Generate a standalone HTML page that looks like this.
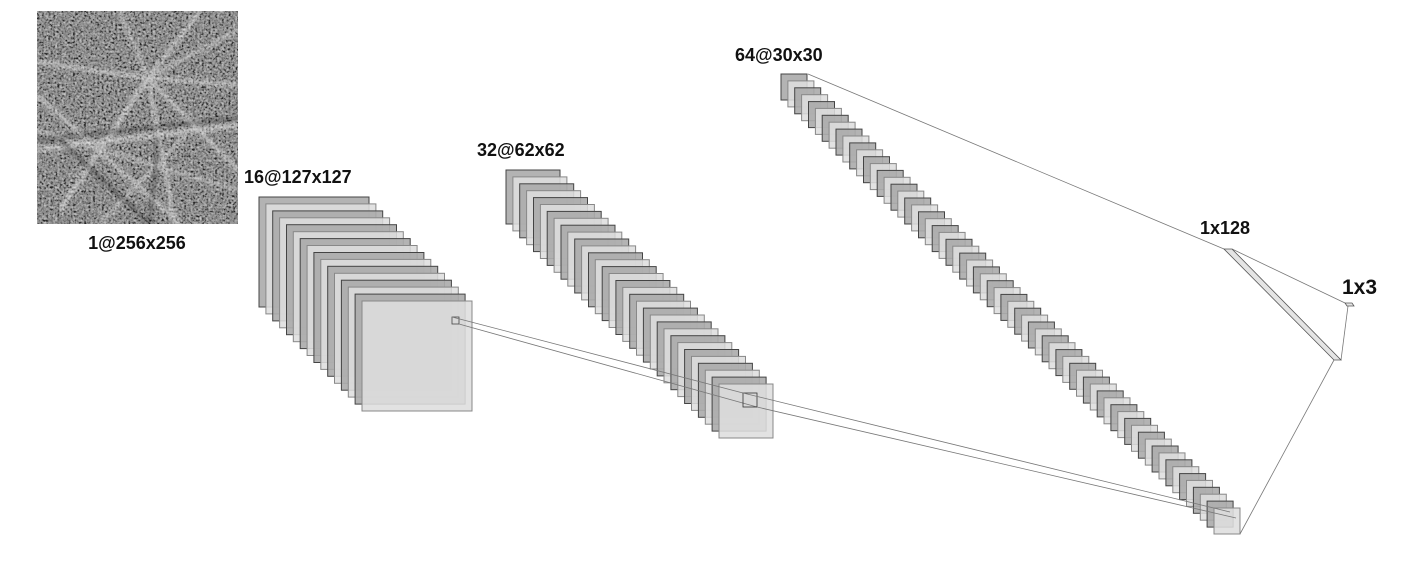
<!DOCTYPE html>
<html><head><meta charset="utf-8"><style>
html,body{margin:0;padding:0;background:#fff;width:1412px;height:568px;overflow:hidden}
svg{display:block}
text{font-family:"Liberation Sans","DejaVu Sans",sans-serif;font-weight:bold;fill:#111}
</style></head><body>
<svg id="s" width="1412" height="568" viewBox="0 0 1412 568" xmlns="http://www.w3.org/2000/svg">
<defs>
<filter id="noise" x="0" y="0" width="100%" height="100%">
<feTurbulence type="fractalNoise" baseFrequency="0.45" numOctaves="2" seed="3"/>
<feColorMatrix type="matrix" values="0.33 0.33 0.33 0 0  0.33 0.33 0.33 0 0  0.33 0.33 0.33 0 0  0 0 0 0 1"/>
<feComponentTransfer><feFuncR type="linear" slope="2.6" intercept="-0.95"/><feFuncG type="linear" slope="2.6" intercept="-0.95"/><feFuncB type="linear" slope="2.6" intercept="-0.95"/></feComponentTransfer>
</filter>
<filter id="bl"><feGaussianBlur stdDeviation="1.5"/></filter>
<clipPath id="ic"><rect x="37" y="11" width="201" height="213"/></clipPath>
</defs>
<rect x="37" y="11" width="201" height="213" fill="#707070"/>
<rect x="37" y="11" width="201" height="213" filter="url(#noise)" opacity="0.65"/>
<g clip-path="url(#ic)" opacity="0.4" filter="url(#bl)" stroke="#fff">
<line x1="148" y1="78" x2="37" y2="62" stroke-width="4"/>
<line x1="148" y1="78" x2="238" y2="85" stroke-width="4"/>
<line x1="148" y1="78" x2="200" y2="11" stroke-width="4"/>
<line x1="148" y1="78" x2="120" y2="11" stroke-width="3"/>
<line x1="148" y1="78" x2="60" y2="210" stroke-width="5"/>
<line x1="148" y1="78" x2="238" y2="170" stroke-width="4"/>
<line x1="148" y1="78" x2="175" y2="224" stroke-width="4"/>
<line x1="148" y1="78" x2="238" y2="30" stroke-width="3"/>
<line x1="37" y1="150" x2="238" y2="125" stroke-width="5"/>
<line x1="37" y1="95" x2="180" y2="224" stroke-width="4"/>
<line x1="37" y1="130" x2="238" y2="190" stroke-width="3"/>
<line x1="100" y1="224" x2="200" y2="120" stroke-width="3"/>
</g>
<g clip-path="url(#ic)" opacity="0.25" filter="url(#bl)" stroke="#000">
<line x1="37" y1="140" x2="238" y2="118" stroke-width="4"/>
<line x1="60" y1="140" x2="150" y2="224" stroke-width="5"/>
<line x1="158" y1="138" x2="150" y2="224" stroke-width="4"/>
</g>
<text x="137" y="249" font-size="18" text-anchor="middle">1@256x256</text>
<text x="244" y="183" font-size="18">16@127x127</text>
<text x="477" y="156" font-size="18">32@62x62</text>
<text x="735" y="61" font-size="18">64@30x30</text>
<text x="1200" y="234" font-size="18">1x128</text>
<text x="1342" y="294" font-size="21">1x3</text>
<g id="stacks"></g>
<g fill="none" stroke="#777" stroke-width="0.8">
<rect x="452" y="317" width="7" height="7" stroke="#444"/>
<line x1="452" y1="317" x2="743" y2="393"/>
<line x1="459" y1="324" x2="757" y2="407"/>
<rect x="743" y="393" width="14" height="14" stroke="#333"/>
<line x1="743" y1="393" x2="1230" y2="512"/>
<line x1="757" y1="407" x2="1236" y2="518"/>
<line x1="808" y1="74" x2="1224" y2="249"/>
<line x1="1240" y1="534" x2="1334" y2="360"/>
<line x1="1232" y1="249" x2="1345" y2="303"/>
<line x1="1341" y1="360" x2="1348" y2="306"/>
</g>
<polygon points="1224,249 1232,249 1341,360 1334,360" fill="#e4e4e4" stroke="#555" stroke-width="0.8"/>
<polygon points="1345,303 1352,303 1354,306 1347,306" fill="#e4e4e4" stroke="#555" stroke-width="0.8"/>
</svg>
<script>
var g=document.getElementById('stacks'),ns='http://www.w3.org/2000/svg';
function stack(n,x0,y0,sz,x1,y1){
 for(var i=0;i<n;i++){
  var x=x0+(x1-x0)*i/(n-1),y=y0+(y1-y0)*i/(n-1);
  var r=document.createElementNS(ns,'rect');
  r.setAttribute('x',x.toFixed(1));r.setAttribute('y',y.toFixed(1));
  r.setAttribute('width',sz);r.setAttribute('height',sz);
  var dark=(i%2==0);
  r.setAttribute('fill',dark?'#a8a8a8':'#dedede');
  r.setAttribute('fill-opacity','0.88');
  r.setAttribute('stroke',dark?'#444':'#888');
  r.setAttribute('stroke-width','1');
  g.appendChild(r);
 }
}
stack(16,259,197,110,362,301);
stack(32,506,170,54,719,384);
stack(64,781,74,26,1214,508);
</script>
</body></html>
